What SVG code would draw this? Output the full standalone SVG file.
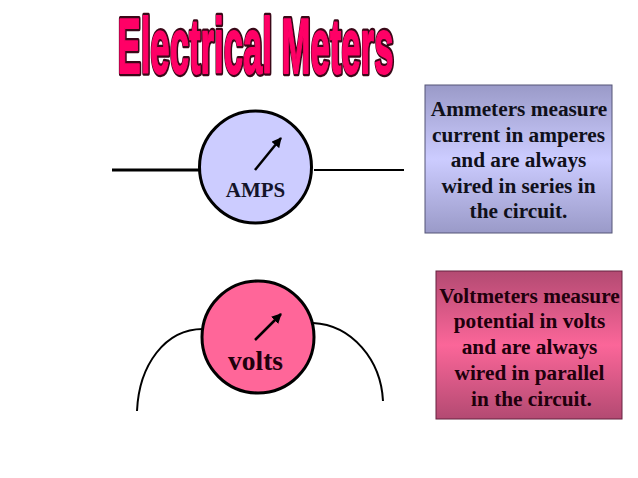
<svg xmlns="http://www.w3.org/2000/svg" width="638" height="478" viewBox="0 0 638 478">
<style>
text{font-family:"Liberation Serif","Times New Roman",serif;font-weight:bold;text-anchor:middle;fill:#000}
.box{font-size:21.3px;fill:#10101a}
.vbox{font-size:21.3px;fill:#20000c}
.title{font-family:"Liberation Sans",Arial,sans-serif;font-size:78px;vector-effect:non-scaling-stroke;stroke-linejoin:round}
.wire{fill:none;stroke:#000;stroke-linecap:butt}
.meter{stroke:#000;stroke-width:3}
.needle{stroke:#000;stroke-width:2.5;marker-end:url(#ah)}
</style>
<defs>
<marker id="ah" markerUnits="userSpaceOnUse" markerWidth="11" markerHeight="11" refX="9" refY="5" orient="auto"><path d="M0 0L10 5L0 10Z" fill="#000"/></marker>
<linearGradient id="g1" x1="0" y1="0" x2="0" y2="1"><stop offset="0" stop-color="#9a9ac8"/><stop offset=".5" stop-color="#ccccff"/><stop offset="1" stop-color="#9a9ac8"/></linearGradient>
<linearGradient id="g2" x1="0" y1="0" x2="0" y2="1"><stop offset="0" stop-color="#b34a72"/><stop offset=".5" stop-color="#fb6699"/><stop offset="1" stop-color="#b34a72"/></linearGradient>
</defs>
<g id="title">
<text class="title" transform="translate(256 73) scale(.445 1)" style="fill:#3a0818;stroke:#3a0818;stroke-width:5">Electrical Meters</text>
<text class="title" transform="translate(255.5 72.500) scale(.445 1)" style="fill:#ff0066;stroke:#ff0066;stroke-width:1.5">Electrical Meters</text>
</g>
<g id="connectors">
<line class="wire" x1="112" y1="170" x2="200" y2="170" stroke-width="3"/>
<line class="wire" x1="314" y1="170" x2="404" y2="170" stroke-width="2"/>
<path class="wire" stroke-width="2" d="M203 329C165 329 139 365 137 411"/>
<path class="wire" stroke-width="2" d="M313 323C352 325 381 360 383 401"/>
</g>
<g id="ammeter">
<circle class="meter" cx="255.5" cy="167" r="56" fill="#ccccff"/>
<line class="needle" x1="255" y1="170" x2="281" y2="138"/>
<text x="255.5" y="197" font-size="21" style="fill:#14142a">AMPS</text>
</g>
<g id="voltmeter">
<circle class="meter" cx="258" cy="337" r="56" fill="#ff6699"/>
<line class="needle" x1="255" y1="340" x2="281" y2="314"/>
<text x="255.5" y="370" font-size="27.5" style="fill:#20000c">volts</text>
</g>
<g id="ammeter-note">
<rect x="425" y="85" width="187" height="148" fill="url(#g1)" stroke="#555577" stroke-width="1"/>
<text class="box" x="519" y="116">Ammeters measure</text>
<text class="box" x="518.500" y="142">current in amperes</text>
<text class="box" x="518.500" y="167">and are always</text>
<text class="box" x="518.500" y="193">wired in series in</text>
<text class="box" x="518.500" y="218">the circuit.</text>
</g>
<g id="voltmeter-note">
<rect x="436" y="271" width="186" height="148" fill="url(#g2)" stroke="#662240" stroke-width="1"/>
<text class="vbox" x="529.500" y="303">Voltmeters measure</text>
<text class="vbox" x="529.500" y="328">potential in volts</text>
<text class="vbox" x="529.500" y="354">and are always</text>
<text class="vbox" x="529.500" y="380">wired in parallel</text>
<text class="vbox" x="531.500" y="406">in the circuit.</text>
</g>
</svg>
